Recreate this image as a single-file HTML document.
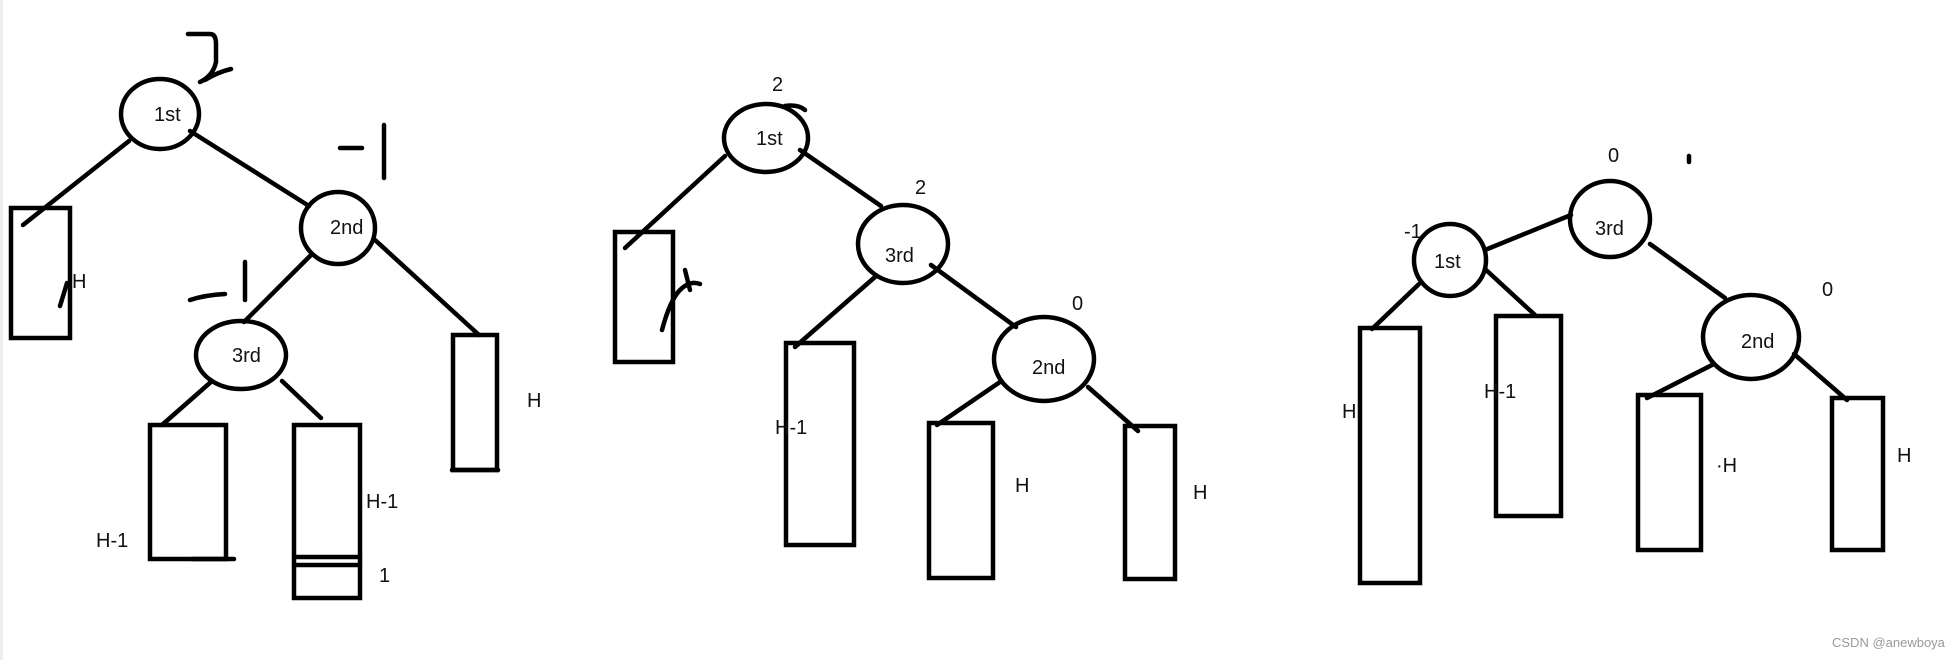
<!DOCTYPE html>
<html><head><meta charset="utf-8"><style>
html,body{margin:0;padding:0;background:#fff;}
svg{display:block}
text{font-family:"Liberation Sans","DejaVu Sans",sans-serif;fill:#111;font-size:20px}
</style></head><body>
<svg width="1960" height="660" viewBox="0 0 1960 660" xmlns="http://www.w3.org/2000/svg">
<rect x="0" y="0" width="3" height="660" fill="#eee"/>
<g fill="none" stroke="#000" stroke-width="4.5" stroke-linecap="round">
<!-- Tree 1 -->
<path d="M188,34 H210 Q216,34 216,44 V62 Q213,76 200,82 M205,80 Q218,72 231,69"/>
<ellipse cx="160" cy="114" rx="39" ry="35"/>
<line x1="129" y1="141" x2="23" y2="225"/>
<rect x="11" y="208" width="59" height="130"/>
<path d="M60,306 L67,283"/>
<line x1="190" y1="131" x2="309" y2="206"/>
<path d="M340,148 H362 M384,125 V178"/>
<ellipse cx="338" cy="228" rx="37" ry="36"/>
<line x1="310" y1="256" x2="244" y2="322"/>
<path d="M190,300 Q205,295 225,294 M245,262 V300"/>
<line x1="375" y1="240" x2="479" y2="335"/>
<rect x="453" y="335" width="44" height="135"/>
<line x1="452" y1="470" x2="498" y2="470"/>
<ellipse cx="241" cy="355" rx="45" ry="34"/>
<line x1="212" y1="381" x2="162" y2="425"/>
<rect x="150" y="425" width="76" height="134"/>
<line x1="192" y1="559" x2="234" y2="559"/>
<line x1="282" y1="381" x2="321" y2="418"/>
<rect x="294" y="425" width="66" height="173"/>
<line x1="294" y1="557" x2="360" y2="557"/>
<line x1="294" y1="565" x2="360" y2="565"/>
<!-- Tree 2 -->
<ellipse cx="766" cy="138" rx="42" ry="34"/>
<path d="M785,106 Q798,104 805,110"/>
<line x1="725" y1="156" x2="625" y2="248"/>
<rect x="615" y="232" width="58" height="130"/>
<path d="M662,330 Q670,300 680,290 Q690,280 700,284 M685,270 L690,290"/>
<line x1="800" y1="150" x2="881" y2="206"/>
<ellipse cx="903" cy="244" rx="45" ry="39"/>
<line x1="875" y1="277" x2="795" y2="347"/>
<rect x="786" y="343" width="68" height="202"/>
<line x1="931" y1="265" x2="1016" y2="327"/>
<ellipse cx="1044" cy="359" rx="50" ry="42"/>
<line x1="1000" y1="382" x2="937" y2="425"/>
<rect x="929" y="423" width="64" height="155"/>
<line x1="1088" y1="387" x2="1138" y2="431"/>
<rect x="1125" y="426" width="50" height="153"/>
<!-- Tree 3 -->
<ellipse cx="1610" cy="219" rx="40" ry="38"/>
<ellipse cx="1450" cy="260" rx="36" ry="36"/>
<line x1="1485" y1="250" x2="1571" y2="215"/>
<line x1="1419" y1="284" x2="1372" y2="329"/>
<rect x="1360" y="328" width="60" height="255"/>
<line x1="1485" y1="269" x2="1535" y2="315"/>
<rect x="1496" y="316" width="65" height="200"/>
<line x1="1650" y1="244" x2="1725" y2="298"/>
<ellipse cx="1751" cy="337" rx="48" ry="42"/>
<line x1="1712" y1="365" x2="1647" y2="398"/>
<rect x="1638" y="395" width="63" height="155"/>
<line x1="1794" y1="354" x2="1847" y2="400"/>
<rect x="1832" y="398" width="51" height="152"/>
<line x1="1689" y1="156" x2="1689" y2="162"/>
</g>
<!-- labels -->
<text x="154" y="121">1st</text>
<text x="330" y="234">2nd</text>
<text x="232" y="362">3rd</text>
<text x="72" y="288">H</text>
<text x="527" y="407">H</text>
<text x="96" y="547">H-1</text>
<text x="366" y="508">H-1</text>
<text x="379" y="582">1</text>
<text x="772" y="91">2</text>
<text x="756" y="145">1st</text>
<text x="915" y="194">2</text>
<text x="885" y="262">3rd</text>
<text x="775" y="434">H-1</text>
<text x="1072" y="310">0</text>
<text x="1032" y="374">2nd</text>
<text x="1015" y="492">H</text>
<text x="1193" y="499">H</text>
<text x="1608" y="162">0</text>
<text x="1595" y="235">3rd</text>
<text x="1404" y="238">-1</text>
<text x="1434" y="268">1st</text>
<text x="1342" y="418">H</text>
<text x="1484" y="398">H-1</text>
<text x="1822" y="296">0</text>
<text x="1741" y="348">2nd</text>
<text x="1716" y="472">·H</text>
<text x="1897" y="462">H</text>
<text x="1832" y="647" style="font-size:13px;fill:#999">CSDN @anewboya</text>
</svg>
</body></html>
